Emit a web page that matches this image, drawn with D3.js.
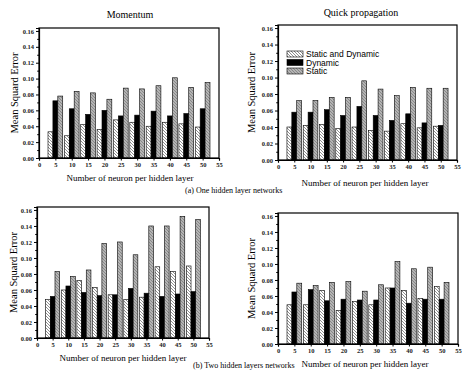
<!DOCTYPE html>
<html><head><meta charset="utf-8">
<script src="https://cdn.jsdelivr.net/npm/d3@7"></script>
<style>body{margin:0;background:#fff}svg{display:block}</style>
</head><body>
<svg id="c" width="474" height="372"></svg>
<script>
const neurons = [5,10,15,20,25,30,35,40,45,50];
const seriesNames = ["Static  and Dynamic","Dynamic","Static"];
const xTicks = [0,5,10,15,20,25,30,35,40,45,50,55];
const yTicks = [0,0.02,0.04,0.06,0.08,0.10,0.12,0.14,0.16];

// (a) One hidden layer, Momentum
const momOneSD = [0.033,0.028,0.042,0.036,0.048,0.045,0.040,0.045,0.043,0.039];
const momOneD  = [0.072,0.062,0.055,0.060,0.053,0.054,0.059,0.053,0.056,0.062];
const momOneS  = [0.078,0.084,0.082,0.074,0.088,0.087,0.091,0.101,0.089,0.095];
// (a) One hidden layer, Quick propagation
const qpOneSD = [0.040,0.042,0.043,0.038,0.040,0.036,0.035,0.044,0.039,0.041];
const qpOneD  = [0.058,0.058,0.061,0.054,0.065,0.054,0.048,0.056,0.045,0.042];
const qpOneS  = [0.072,0.072,0.076,0.076,0.096,0.086,0.078,0.088,0.087,0.087];
// (b) Two hidden layers, Momentum
const momTwoSD = [0.048,0.060,0.072,0.063,0.054,0.048,0.051,0.089,0.083,0.090];
const momTwoD  = [0.052,0.065,0.057,0.053,0.054,0.062,0.056,0.052,0.055,0.058];
const momTwoS  = [0.083,0.077,0.085,0.118,0.120,0.104,0.140,0.140,0.152,0.148];
// (b) Two hidden layers, Quick propagation
const qpTwoSD = [0.049,0.049,0.067,0.042,0.053,0.049,0.070,0.067,0.057,0.072];
const qpTwoD  = [0.065,0.068,0.054,0.056,0.055,0.055,0.070,0.051,0.056,0.056];
const qpTwoS  = [0.076,0.073,0.077,0.078,0.066,0.074,0.103,0.094,0.096,0.077];

const svg = d3.select("#c");
const defs = svg.append("defs");
function hatch(id, bg, fg){
  const p = defs.append("pattern").attr("id",id).attr("patternUnits","userSpaceOnUse")
    .attr("width",3).attr("height",3);
  p.append("rect").attr("width",3).attr("height",3).attr("fill",bg);
  p.append("path").attr("d","M-1,-1L4,4M2,-1L4,1M-1,2L1,4").attr("stroke",fg).attr("stroke-width",0.6);
}
hatch("hSD","#ffffff","#444");
hatch("hS","#b4b4b4","#6a6a6a");
const fills = ["url(#hSD)","#000000","url(#hS)"];

const serif = "'Liberation Serif','DejaVu Serif',serif";
const sans = "'Liberation Sans',Arial,sans-serif";

const panels = [
  {x0:39,x1:219,y0:158,y1:28,data:[momOneSD,momOneD,momOneS],title:"Momentum",tx:130,ty:18,lx:130,ly:181,yx:14,legend:false},
  {x0:278,x1:457,y0:160,y1:25,data:[qpOneSD,qpOneD,qpOneS],title:"Quick propagation",tx:361,ty:16,lx:365,ly:186,yx:251,legend:true},
  {x0:37,x1:209,y0:338,y1:207,data:[momTwoSD,momTwoD,momTwoS],title:null,lx:123,ly:361,yx:13},
  {x0:278,x1:458,y0:344,y1:213,data:[qpTwoSD,qpTwoD,qpTwoS],title:null,lx:365,ly:367,yx:251}
];

const yMax = 0.1637;
panels.forEach(P=>{
  const x = d3.scaleLinear().domain([0,55]).range([P.x0,P.x1]);
  const y = d3.scaleLinear().domain([0,yMax]).range([P.y0,P.y1]);
  const g = svg.append("g");
  const bw = x(1.5)-x(0);
  P.data.forEach((vals,si)=>{
    g.selectAll(null).data(neurons).enter().append("rect")
      .attr("x",(d,i)=>x(d+(si-1)*1.5-0.75))
      .attr("width",bw)
      .attr("y",(d,i)=>y(vals[i]))
      .attr("height",(d,i)=>y(0)-y(vals[i]))
      .attr("fill",fills[si]).attr("stroke","#000").attr("stroke-width",0.6);
  });
  // frame
  g.append("rect").attr("x",P.x0).attr("y",P.y1).attr("width",P.x1-P.x0).attr("height",P.y0-P.y1)
    .attr("fill","none").attr("stroke","#000").attr("stroke-width",1.2);
  // y axis
  const ya = g.append("g").attr("transform",`translate(${P.x0},0)`)
    .call(d3.axisLeft(y).tickValues(yTicks).tickFormat(d3.format(".2f")).tickSize(3).tickPadding(2));
  g.append("g").attr("transform",`translate(${P.x0},0)`)
    .call(d3.axisLeft(y).tickValues(d3.range(0.01,0.161,0.02)).tickFormat("").tickSize(1.8))
    .call(s=>s.select(".domain").remove());
  const xa = g.append("g").attr("transform",`translate(0,${P.y0})`)
    .call(d3.axisBottom(x).tickValues(xTicks).tickFormat(d3.format("d")).tickSize(2.5).tickPadding(2));
  [ya,xa].forEach(a=>{
    a.select(".domain").attr("stroke-width",1.2);
    a.selectAll("text").attr("font-family",serif).attr("font-weight","bold").attr("font-size",6.5).attr("fill","#222");
  });
  if(P.title) g.append("text").attr("x",P.tx).attr("y",P.ty).attr("text-anchor","middle")
    .attr("font-family",serif).attr("font-size",10).text(P.title);
  g.append("text").attr("x",P.lx).attr("y",P.ly).attr("text-anchor","middle")
    .attr("font-family",serif).attr("font-size",9).text("Number of neuron per hidden layer");
  g.append("text").attr("transform",`translate(${P.yx},${(P.y0+P.y1)/2}) rotate(-90)`)
    .attr("text-anchor","middle").attr("dominant-baseline","central")
    .attr("font-family",serif).attr("font-size",10.5).text("Mean Squard Error");
  if(P.legend){
    seriesNames.forEach((n,i)=>{
      const yy = 51+i*8.5;
      g.append("rect").attr("x",287).attr("y",yy).attr("width",16).attr("height",6)
        .attr("fill",fills[i]).attr("stroke","#000").attr("stroke-width",0.6);
      g.append("text").attr("x",306).attr("y",yy+3).attr("dominant-baseline","central")
        .attr("font-family",sans).attr("font-size",8.5).text(n);
    });
  }
});
svg.append("text").attr("x",185).attr("y",193).attr("font-family",serif).attr("font-size",8)
  .text("(a) One hidden layer networks");
svg.append("text").attr("x",193).attr("y",368).attr("font-family",serif).attr("font-size",8)
  .text("(b) Two hidden layers networks");
</script>
</body></html>
